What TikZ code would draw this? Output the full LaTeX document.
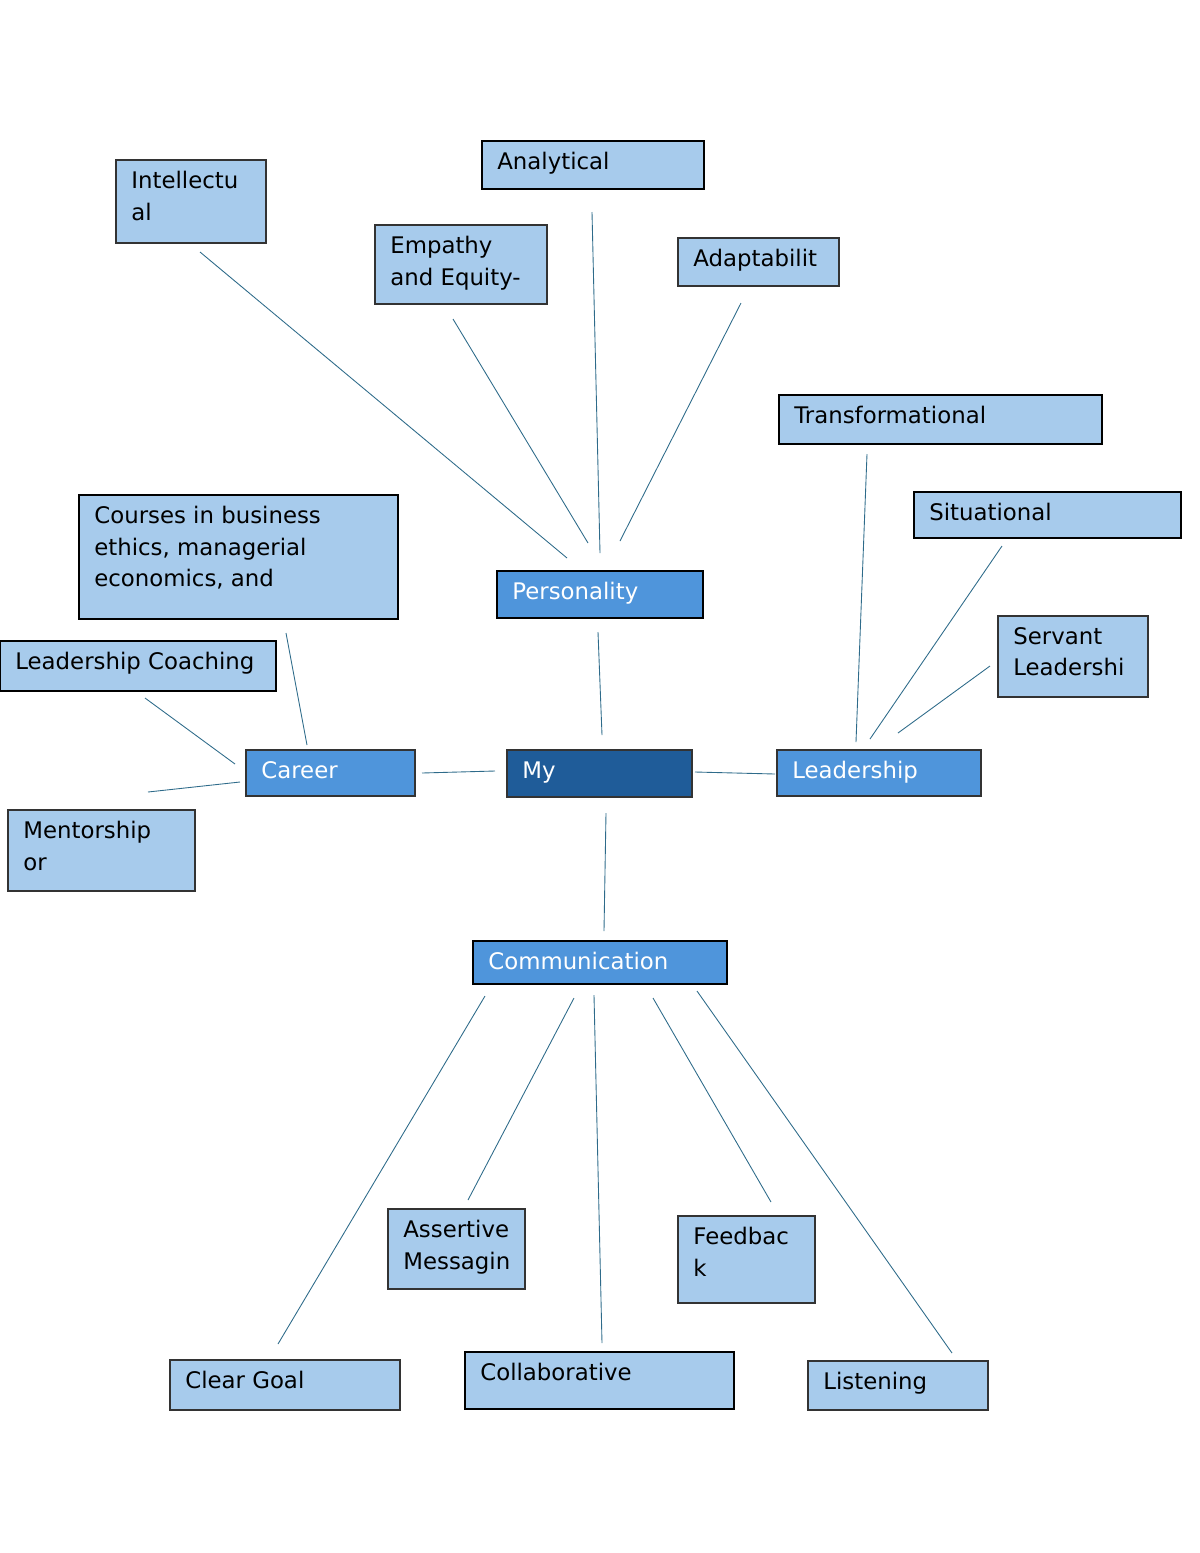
\documentclass[tikz,border=0pt]{standalone}
\usepackage{fontspec}
\setmainfont{DejaVu Sans}
\definecolor{lightblue}{HTML}{A7CBEC}
\definecolor{midblue}{HTML}{4F95DB}
\definecolor{darkblue}{HTML}{1F5C99}
\definecolor{linkcol}{HTML}{2E6B8A}
\tikzset{
  light/.style={fill=lightblue, draw=black!80, line width=0.6pt},
  lightthick/.style={fill=lightblue, draw=black, line width=1.3pt},
  mid/.style={fill=midblue, draw=black!80, line width=0.6pt},
  midthick/.style={fill=midblue, draw=black, line width=1.3pt},
  dark/.style={fill=darkblue, draw=black!80, line width=0.6pt},
  txt/.style={inner sep=0pt, anchor=north west, align=left, font=\fontsize{13}{18}\selectfont},
  link/.style={draw=linkcol, line width=0.5pt}
}
\newcommand\boxnode[8]{%
  \path[#1] (#3,#4) rectangle (#5,#6);
  \node[txt, text=#7] (#2) at (#3+15,#4+11) {#8};}
\begin{document}
\begin{tikzpicture}[x=0.02cm, y=-0.02cm]
  \useasboundingbox (0,0) rectangle (1200,1553);
  % links
  \draw[link] (200,252) -- (567,558);
  \draw[link] (453,319) -- (588,543);
  \draw[link] (592,212) -- (600,553);
  \draw[link] (741,303) -- (620,541);
  \draw[link] (598,632) -- (602,735);
  \draw[link] (422,773) -- (495,771);
  \draw[link] (695,772) -- (775,774);
  \draw[link] (606,813) -- (604,931);
  \draw[link] (286,633) -- (307,745);
  \draw[link] (145,698) -- (235,764);
  \draw[link] (148,792) -- (240,782);
  \draw[link] (867,454) -- (856,742);
  \draw[link] (1002,546) -- (870,739);
  \draw[link] (990,666) -- (898,733);
  \draw[link] (485,996) -- (278,1344);
  \draw[link] (574,998) -- (468,1200);
  \draw[link] (594,995) -- (602,1343);
  \draw[link] (653,998) -- (771,1202);
  \draw[link] (697,991) -- (952,1353);
  % boxes
  \boxnode{light}{intel}{116}{160}{266}{243}{black}{Intellectu\\al}
  \boxnode{lightthick}{analyt}{482}{141}{704}{189}{black}{Analytical}
  \boxnode{light}{empathy}{375}{225}{547}{304}{black}{Empathy\\and Equity-}
  \boxnode{light}{adapt}{678}{238}{839}{286}{black}{Adaptabilit}
  \boxnode{lightthick}{transf}{779}{395}{1102}{444}{black}{Transformational}
  \boxnode{lightthick}{situ}{914}{492}{1181}{538}{black}{Situational}
  \boxnode{light}{servant}{998}{616}{1148}{697}{black}{Servant\\Leadershi}
  \boxnode{lightthick}{courses}{79}{495}{398}{619}{black}{Courses in business\\ethics, managerial\\economics, and}
  \boxnode{midthick}{person}{497}{571}{703}{618}{white}{Personality}
  \boxnode{lightthick}{coach}{0}{641}{276}{691}{black}{Leadership Coaching}
  \boxnode{mid}{career}{246}{750}{415}{796}{white}{Career}
  \boxnode{dark}{my}{507}{750}{692}{797}{white}{My}
  \boxnode{mid}{leader}{777}{750}{981}{796}{white}{Leadership}
  \boxnode{light}{mentor}{8}{810}{195}{891}{black}{Mentorship\\or}
  \boxnode{midthick}{comm}{473}{941}{727}{984}{white}{Communication}
  \boxnode{light}{assert}{388}{1209}{525}{1289}{black}{Assertive\\Messagin}
  \boxnode{light}{feedb}{678}{1216}{815}{1303}{black}{Feedbac\\k}
  \boxnode{light}{goal}{170}{1360}{400}{1410}{black}{Clear Goal}
  \boxnode{lightthick}{collab}{465}{1352}{734}{1409}{black}{Collaborative}
  \boxnode{light}{listen}{808}{1361}{988}{1410}{black}{Listening}
\end{tikzpicture}
\end{document}
